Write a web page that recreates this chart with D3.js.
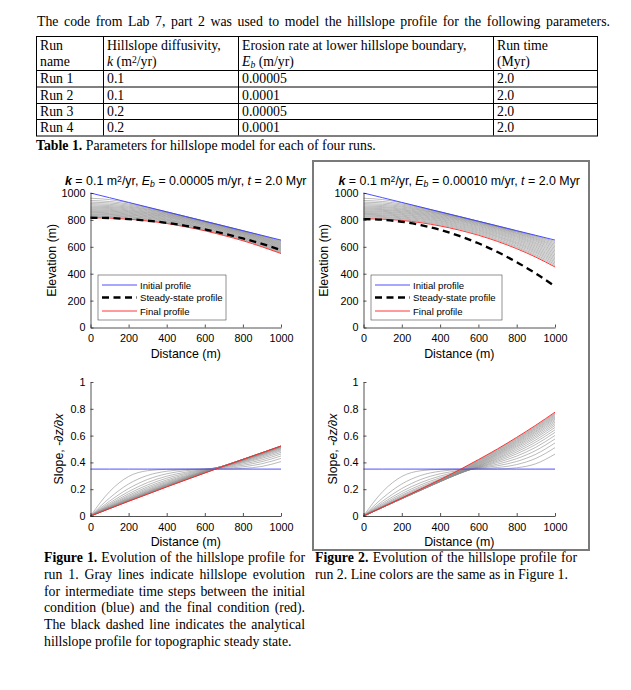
<!DOCTYPE html>
<html>
<head>
<meta charset="utf-8">
<script src="https://cdn.jsdelivr.net/npm/d3@7"></script>
<style>
  body { margin: 0; background: #fff; }
  svg text { fill: #000; }
</style>
</head>
<body>
<div id="page"></div>
<script>
// ---- data ----
const distance = [0, 100, 200, 300, 400, 500, 600, 700, 800, 900, 1000];
const initialElevation = [1000, 965, 930, 895, 860, 825, 790, 755, 720, 685, 650];
const initialSlope = [0.35, 0.35, 0.35, 0.35, 0.35, 0.35, 0.35, 0.35, 0.35, 0.35, 0.35];

// run 1 : intermediate profiles (every 0.1 Myr)
const run1Elevation = [
  [961, 951, 927, 894, 860, 825, 790, 755, 720, 684, 645],
  [944, 937, 918, 891, 859, 825, 790, 755, 719, 681, 640],
  [932, 926, 910, 886, 856, 824, 789, 754, 717, 678, 635],
  [921, 916, 902, 880, 853, 822, 788, 752, 714, 674, 630],
  [912, 907, 895, 875, 849, 819, 786, 750, 712, 670, 625],
  [903, 899, 888, 869, 844, 815, 783, 747, 708, 666, 620],
  [895, 892, 881, 863, 840, 812, 780, 744, 705, 662, 615],
  [888, 885, 874, 857, 835, 808, 776, 740, 701, 658, 610],
  [881, 878, 868, 852, 830, 803, 772, 736, 697, 653, 605],
  [875, 871, 862, 846, 825, 799, 768, 732, 693, 649, 600],
  [868, 865, 856, 841, 820, 794, 763, 728, 688, 644, 595],
  [862, 859, 850, 835, 815, 789, 759, 723, 684, 639, 590],
  [856, 853, 844, 830, 809, 784, 754, 719, 679, 634, 585],
  [850, 847, 838, 824, 804, 779, 749, 714, 674, 630, 580],
  [844, 841, 833, 819, 799, 774, 744, 709, 669, 625, 575],
  [839, 836, 827, 813, 794, 769, 739, 704, 664, 620, 570],
  [833, 830, 822, 808, 788, 764, 734, 699, 660, 615, 565],
  [827, 825, 816, 802, 783, 759, 729, 694, 655, 610, 560],
  [822, 819, 811, 797, 778, 753, 724, 689, 650, 605, 555]
];
const run1Final = [816, 813, 805, 792, 773, 748, 719, 684, 645, 600, 550];
const run1Steady = [816, 814, 806, 794, 778, 756, 730, 698, 662, 622, 576];

const run1Slope = [
  [0, 0.182, 0.295, 0.338, 0.348, 0.350, 0.350, 0.351, 0.355, 0.370, 0.406],
  [0, 0.134, 0.239, 0.303, 0.334, 0.346, 0.351, 0.356, 0.367, 0.390, 0.430],
  [0, 0.111, 0.205, 0.273, 0.315, 0.338, 0.350, 0.362, 0.378, 0.406, 0.448],
  [0, 0.097, 0.182, 0.250, 0.297, 0.327, 0.348, 0.366, 0.388, 0.419, 0.463],
  [0, 0.087, 0.166, 0.232, 0.282, 0.318, 0.345, 0.370, 0.397, 0.431, 0.475],
  [0, 0.080, 0.154, 0.218, 0.269, 0.310, 0.342, 0.372, 0.403, 0.440, 0.486],
  [0, 0.075, 0.145, 0.207, 0.259, 0.302, 0.339, 0.373, 0.408, 0.448, 0.494],
  [0, 0.070, 0.137, 0.198, 0.251, 0.296, 0.336, 0.374, 0.412, 0.454, 0.501],
  [0, 0.067, 0.132, 0.191, 0.244, 0.291, 0.334, 0.375, 0.415, 0.459, 0.506],
  [0, 0.065, 0.127, 0.185, 0.239, 0.287, 0.332, 0.375, 0.418, 0.462, 0.511],
  [0, 0.063, 0.123, 0.181, 0.234, 0.284, 0.330, 0.375, 0.419, 0.465, 0.514],
  [0, 0.061, 0.120, 0.177, 0.231, 0.281, 0.329, 0.375, 0.421, 0.468, 0.517],
  [0, 0.060, 0.118, 0.174, 0.228, 0.278, 0.327, 0.374, 0.422, 0.469, 0.519],
  [0, 0.058, 0.116, 0.172, 0.225, 0.276, 0.326, 0.374, 0.422, 0.471, 0.520],
  [0, 0.058, 0.114, 0.170, 0.223, 0.275, 0.325, 0.374, 0.422, 0.471, 0.521],
  [0, 0.057, 0.113, 0.168, 0.221, 0.273, 0.324, 0.373, 0.423, 0.472, 0.522],
  [0, 0.056, 0.112, 0.166, 0.220, 0.272, 0.323, 0.373, 0.423, 0.472, 0.522],
  [0, 0.056, 0.111, 0.165, 0.219, 0.271, 0.322, 0.373, 0.423, 0.472, 0.522],
  [0, 0.055, 0.110, 0.164, 0.218, 0.270, 0.321, 0.372, 0.422, 0.472, 0.522]
];
const run1FinalSlope = [0, 0.055, 0.110, 0.163, 0.217, 0.269, 0.321, 0.372, 0.422, 0.472, 0.522];

// run 2
const run2Elevation = [
  [961, 951, 927, 894, 860, 825, 790, 755, 719, 682, 640],
  [944, 937, 918, 891, 859, 825, 790, 754, 717, 677, 630],
  [932, 926, 910, 886, 856, 824, 789, 752, 713, 670, 620],
  [921, 916, 902, 880, 853, 821, 787, 749, 709, 663, 610],
  [912, 907, 895, 874, 848, 818, 784, 746, 703, 656, 600],
  [903, 899, 887, 869, 844, 814, 780, 741, 698, 648, 590],
  [895, 892, 880, 862, 839, 809, 775, 736, 691, 640, 580],
  [888, 884, 874, 856, 833, 804, 770, 730, 684, 631, 570],
  [881, 877, 867, 850, 827, 799, 764, 724, 677, 623, 560],
  [874, 871, 861, 844, 821, 793, 758, 717, 670, 614, 550],
  [867, 864, 854, 838, 815, 787, 752, 710, 662, 605, 540],
  [861, 858, 848, 832, 809, 780, 745, 703, 654, 596, 530],
  [854, 851, 841, 825, 803, 774, 738, 696, 646, 587, 520],
  [848, 845, 835, 819, 796, 767, 731, 688, 637, 578, 510],
  [841, 838, 828, 812, 790, 760, 724, 680, 629, 569, 500],
  [835, 832, 822, 806, 783, 753, 717, 673, 621, 560, 490],
  [828, 825, 815, 799, 776, 746, 709, 665, 612, 551, 480],
  [822, 819, 809, 792, 769, 739, 702, 656, 603, 541, 470],
  [815, 812, 802, 786, 762, 732, 694, 648, 595, 532, 460]
];
const run2Final = [809, 805, 796, 779, 755, 724, 686, 640, 586, 523, 450];
const run2Steady = [806, 801, 786, 761, 726, 681, 626, 561, 486, 401, 306];

const run2Slope = [
  [0, 0.182, 0.295, 0.338, 0.348, 0.350, 0.350, 0.351, 0.360, 0.390, 0.462],
  [0, 0.134, 0.239, 0.303, 0.334, 0.346, 0.353, 0.362, 0.384, 0.430, 0.510],
  [0, 0.111, 0.205, 0.273, 0.315, 0.339, 0.356, 0.375, 0.407, 0.461, 0.545],
  [0, 0.097, 0.183, 0.250, 0.298, 0.332, 0.358, 0.387, 0.428, 0.489, 0.575],
  [0, 0.087, 0.167, 0.233, 0.285, 0.326, 0.361, 0.399, 0.447, 0.513, 0.601],
  [0, 0.080, 0.155, 0.220, 0.275, 0.321, 0.363, 0.409, 0.464, 0.534, 0.624],
  [0, 0.075, 0.147, 0.211, 0.268, 0.318, 0.366, 0.418, 0.478, 0.552, 0.643],
  [0, 0.072, 0.141, 0.204, 0.262, 0.316, 0.370, 0.427, 0.491, 0.568, 0.661],
  [0, 0.069, 0.136, 0.199, 0.259, 0.316, 0.373, 0.434, 0.503, 0.583, 0.676],
  [0, 0.067, 0.133, 0.196, 0.257, 0.317, 0.377, 0.442, 0.514, 0.595, 0.689],
  [0, 0.066, 0.131, 0.194, 0.256, 0.318, 0.381, 0.449, 0.523, 0.607, 0.701],
  [0, 0.065, 0.130, 0.193, 0.256, 0.320, 0.386, 0.456, 0.532, 0.617, 0.712],
  [0, 0.065, 0.129, 0.193, 0.257, 0.322, 0.390, 0.462, 0.540, 0.627, 0.722],
  [0, 0.064, 0.129, 0.193, 0.258, 0.325, 0.394, 0.468, 0.548, 0.635, 0.731],
  [0, 0.065, 0.129, 0.194, 0.260, 0.328, 0.399, 0.474, 0.555, 0.644, 0.739],
  [0, 0.065, 0.130, 0.195, 0.262, 0.331, 0.403, 0.480, 0.562, 0.651, 0.747],
  [0, 0.065, 0.130, 0.196, 0.264, 0.334, 0.408, 0.485, 0.569, 0.658, 0.755],
  [0, 0.065, 0.131, 0.198, 0.267, 0.338, 0.412, 0.491, 0.575, 0.665, 0.762],
  [0, 0.066, 0.132, 0.200, 0.269, 0.341, 0.416, 0.496, 0.581, 0.671, 0.768]
];
const run2FinalSlope = [0, 0.066, 0.134, 0.202, 0.272, 0.344, 0.421, 0.501, 0.587, 0.678, 0.775];

const elevationTicks = [0, 200, 400, 600, 800, 1000];
const slopeTicks = [0, 0.2, 0.4, 0.6, 0.8, 1];
const distanceTicks = [0, 200, 400, 600, 800, 1000];
const legendLabels = ["Initial profile", "Steady-state profile", "Final profile"];

// table
const runNames = ["Run 1", "Run 2", "Run 3", "Run 4"];
const diffusivity = ["0.1", "0.1", "0.2", "0.2"];
const erosionRate = ["0.00005", "0.0001", "0.00005", "0.0001"];
const runTime = ["2.0", "2.0", "2.0", "2.0"];

const introText = "The code from Lab 7, part 2 was used to model the hillslope profile for the following parameters.";
const fig1Caption = [
  "Evolution of the hillslope profile for",
  "run 1. Gray lines indicate hillslope evolution",
  "for intermediate time steps between the initial",
  "condition (blue) and the final condition (red).",
  "The black dashed line indicates the analytical",
  "hillslope profile for topographic steady state."
];
const fig2Caption = [
  "Evolution of the hillslope profile for",
  "run 2. Line colors are the same as in Figure 1."
];

// ---- drawing ----
const W = 631, H = 690;
const serif = "'Liberation Serif', 'Times New Roman', serif";
const sans = "'Liberation Sans', Arial, sans-serif";
const axisColor = "#262626";
const serifSize = 13.8;

const svg = d3.select("#page").append("svg")
  .attr("width", W).attr("height", H)
  .style("display", "block");

function rich(parent, x, y, parts, attrs) {
  const t = parent.append("text").attr("x", x).attr("y", y);
  Object.entries(attrs || {}).forEach(([k, v]) => t.attr(k, v));
  parts.forEach(p => {
    const s = t.append("tspan").text(p.t);
    if (p.i) s.attr("font-style", "italic");
    if (p.b) s.attr("font-weight", "bold");
    if (p.sup) s.attr("baseline-shift", "35%").attr("font-size", "70%");
    if (p.sub) s.attr("baseline-shift", "-18%").attr("font-size", "70%");
  });
  return t;
}

// spreads extra room over the spaces, like a justified paragraph
function justify(t, width) {
  const natural = t.node().getComputedTextLength();
  const text = t.text();
  const gaps = (text.match(/ /g) || []).length;
  if (gaps > 0 && natural < width) t.attr("word-spacing", (width - natural) / gaps);
}

// intro line
const intro = svg.append("text").attr("x", 37).attr("y", 26)
  .attr("font-family", serif).attr("font-size", serifSize)
  .text(introText);
justify(intro, 573);

// table
const colX = [36, 103, 238, 493, 597];
const rowY = [36, 70, 86.5, 103, 119, 135.5];
const tbl = svg.append("g").attr("font-family", serif).attr("font-size", serifSize);
tbl.append("rect").attr("x", colX[0] + 0.5).attr("y", rowY[0] + 0.5)
  .attr("width", colX[4] - colX[0]).attr("height", rowY[5] - rowY[0])
  .attr("fill", "none").attr("stroke", "#000");
colX.slice(1, 4).forEach(cx => tbl.append("line")
  .attr("x1", cx + 0.5).attr("x2", cx + 0.5).attr("y1", rowY[0]).attr("y2", rowY[5])
  .attr("stroke", "#000"));
rowY.slice(1, 5).forEach(ry => tbl.append("line")
  .attr("x1", colX[0]).attr("x2", colX[4]).attr("y1", ry + 0.5).attr("y2", ry + 0.5)
  .attr("stroke", "#000"));

const padL = 4;
rich(tbl, colX[0] + padL, 50, [{ t: "Run" }]);
rich(tbl, colX[0] + padL, 66, [{ t: "name" }]);
rich(tbl, colX[1] + padL, 50, [{ t: "Hillslope diffusivity," }]);
rich(tbl, colX[1] + padL, 66, [{ t: "k", i: true }, { t: " (m" }, { t: "2", sup: true }, { t: "/yr)" }]);
rich(tbl, colX[2] + padL, 50, [{ t: "Erosion rate at lower hillslope boundary," }]);
rich(tbl, colX[2] + padL, 66, [{ t: "E", i: true }, { t: "b", i: true, sub: true }, { t: " (m/yr)" }]);
rich(tbl, colX[3] + padL, 50, [{ t: "Run time" }]);
rich(tbl, colX[3] + padL, 66, [{ t: "(Myr)" }]);

const rowCols = [runNames, diffusivity, erosionRate, runTime];
runNames.forEach((r, i) => {
  const by = rowY[i + 1] + 13;
  rowCols.forEach((col, j) => {
    tbl.append("text").attr("x", colX[j] + padL).attr("y", by).text(col[i]);
  });
});

rich(svg, 36, 150, [{ t: "Table 1.", b: true }, { t: " Parameters for hillslope model for each of four runs." }],
  { "font-family": serif, "font-size": serifSize });

// figure 2 frame
svg.append("rect").attr("x", 313).attr("y", 161).attr("width", 276).attr("height", 389)
  .attr("fill", "none").attr("stroke", "#7a7a7a").attr("stroke-width", 2);

function drawPanel(cfg) {
  const g = svg.append("g").attr("font-family", sans);
  const x = d3.scaleLinear().domain([0, 1000]).range([cfg.left, cfg.right]);
  const y = d3.scaleLinear().domain(cfg.yDomain).range([cfg.bottom, cfg.top]);
  const line = d3.line().x((d, i) => x(distance[i])).y(d => y(d)).curve(d3.curveMonotoneX);

  g.append("g").selectAll("path").data(cfg.gray).join("path")
    .attr("d", line).attr("fill", "none")
    .attr("stroke", "#8c8c8c").attr("stroke-width", 0.6);
  g.append("path").attr("d", line(cfg.initial)).attr("fill", "none")
    .attr("stroke", "#3b3bff").attr("stroke-width", 0.9);
  g.append("path").attr("d", line(cfg.final)).attr("fill", "none")
    .attr("stroke", "#ff2020").attr("stroke-width", 0.9);
  if (cfg.steady) {
    g.append("path").attr("d", line(cfg.steady)).attr("fill", "none")
      .attr("stroke", "#000").attr("stroke-width", 2.3).attr("stroke-dasharray", "7,4.5");
  }

  const xAxis = d3.axisBottom(x).tickValues(distanceTicks).tickSizeInner(-3).tickSizeOuter(0)
    .tickPadding(7).tickFormat(d3.format("d"));
  const yAxis = d3.axisLeft(y).tickValues(cfg.ticks).tickSizeInner(-3).tickSizeOuter(0).tickPadding(5)
    .tickFormat(cfg.fmt);
  const ax = g.append("g").attr("transform", `translate(0,${cfg.bottom})`).call(xAxis);
  const ay = g.append("g").attr("transform", `translate(${cfg.left},0)`).call(yAxis);
  [ax, ay].forEach(a => {
    a.select(".domain").attr("stroke", axisColor).attr("stroke-width", 0.8);
    a.selectAll(".tick line").attr("stroke", axisColor).attr("stroke-width", 0.8);
    a.selectAll(".tick text").attr("fill", axisColor).attr("font-size", 10.8)
      .attr("font-family", sans);
  });

  g.append("text").attr("x", (cfg.left + cfg.right) / 2).attr("y", cfg.bottom + 30)
    .attr("text-anchor", "middle").attr("font-size", 12.4).attr("fill", axisColor)
    .text("Distance (m)");
  rich(g, 0, 0, cfg.ylabel, {
    "text-anchor": "middle", "font-size": 12.4, fill: axisColor,
    transform: `translate(${cfg.ylabelX},${(cfg.top + cfg.bottom) / 2}) rotate(-90)`
  });

  if (cfg.title) {
    rich(g, (cfg.left + cfg.right) / 2, cfg.top - 8, cfg.title,
      { "text-anchor": "middle", "font-size": 12.4, fill: "#000" });
  }

  if (cfg.legend) {
    const L = cfg.legend;
    const lg = g.append("g");
    lg.append("rect").attr("x", L.x).attr("y", L.y).attr("width", L.w).attr("height", L.h)
      .attr("fill", "#fff").attr("stroke", axisColor).attr("stroke-width", 0.5);
    const styles = [
      { c: "#3b3bff", w: 0.9, d: null },
      { c: "#000", w: 2.3, d: "7,4.5" },
      { c: "#ff2020", w: 0.9, d: null }
    ];
    const rowsY = [L.y + 10, L.y + 22.5, L.y + 36];
    legendLabels.forEach((lab, i) => {
      lg.append("line").attr("x1", L.x + 4).attr("x2", L.x + 39)
        .attr("y1", rowsY[i]).attr("y2", rowsY[i])
        .attr("stroke", styles[i].c).attr("stroke-width", styles[i].w)
        .attr("stroke-dasharray", styles[i].d);
      lg.append("text").attr("x", L.x + 42).attr("y", rowsY[i] + 3.5)
        .attr("font-size", 9.6).attr("fill", axisColor).text(lab);
    });
  }
}

const elevLabel = [{ t: "Elevation (m)" }];
const slopeLabel = [{ t: "Slope, -" }, { t: "\u2202z/\u2202x", i: true }];
function titleParts(eb) {
  return [{ t: "k", b: true, i: true }, { t: " = 0.1 m" }, { t: "2", sup: true }, { t: "/yr, " },
    { t: "E", i: true }, { t: "b", i: true, sub: true }, { t: ` = ${eb} m/yr, ` },
    { t: "t", i: true }, { t: " = 2.0 Myr" }];
}
const elevFmt = d3.format("d");
const slopeFmt = d => d === 0 || d === 1 ? String(d) : d3.format(".1f")(d);

drawPanel({
  left: 90.5, right: 281, top: 193, bottom: 327.5, yDomain: [0, 1000],
  gray: run1Elevation, initial: initialElevation, final: run1Final, steady: run1Steady,
  ticks: elevationTicks, fmt: elevFmt, ylabel: elevLabel, ylabelX: 56,
  title: titleParts("0.00005"),
  legend: { x: 98, y: 275, w: 128, h: 45 }
});
drawPanel({
  left: 90.5, right: 281, top: 382, bottom: 516, yDomain: [0, 1],
  gray: run1Slope, initial: initialSlope, final: run1FinalSlope,
  ticks: slopeTicks, fmt: slopeFmt, ylabel: slopeLabel, ylabelX: 63
});
drawPanel({
  left: 363.5, right: 555, top: 193, bottom: 327.5, yDomain: [0, 1000],
  gray: run2Elevation, initial: initialElevation, final: run2Final, steady: run2Steady,
  ticks: elevationTicks, fmt: elevFmt, ylabel: elevLabel, ylabelX: 328,
  title: titleParts("0.00010"),
  legend: { x: 371, y: 275, w: 131, h: 45 }
});
drawPanel({
  left: 363.5, right: 555, top: 382, bottom: 516, yDomain: [0, 1],
  gray: run2Slope, initial: initialSlope, final: run2FinalSlope,
  ticks: slopeTicks, fmt: slopeFmt, ylabel: slopeLabel, ylabelX: 337
});

// figure captions (justified lines)
function caption(x, width, y0, label, lines) {
  const g = svg.append("g").attr("font-family", serif).attr("font-size", serifSize);
  lines.forEach((ln, i) => {
    const y = y0 + i * 16.8;
    const last = i === lines.length - 1;
    const parts = i === 0 ? [{ t: label, b: true }, { t: " " + ln }] : [{ t: ln }];
    const t = rich(g, x, y, parts);
    if (!last) justify(t, width);
  });
}
caption(44, 261, 562, "Figure 1.", fig1Caption);
caption(315, 262, 562, "Figure 2.", fig2Caption);
</script>
</body>
</html>
